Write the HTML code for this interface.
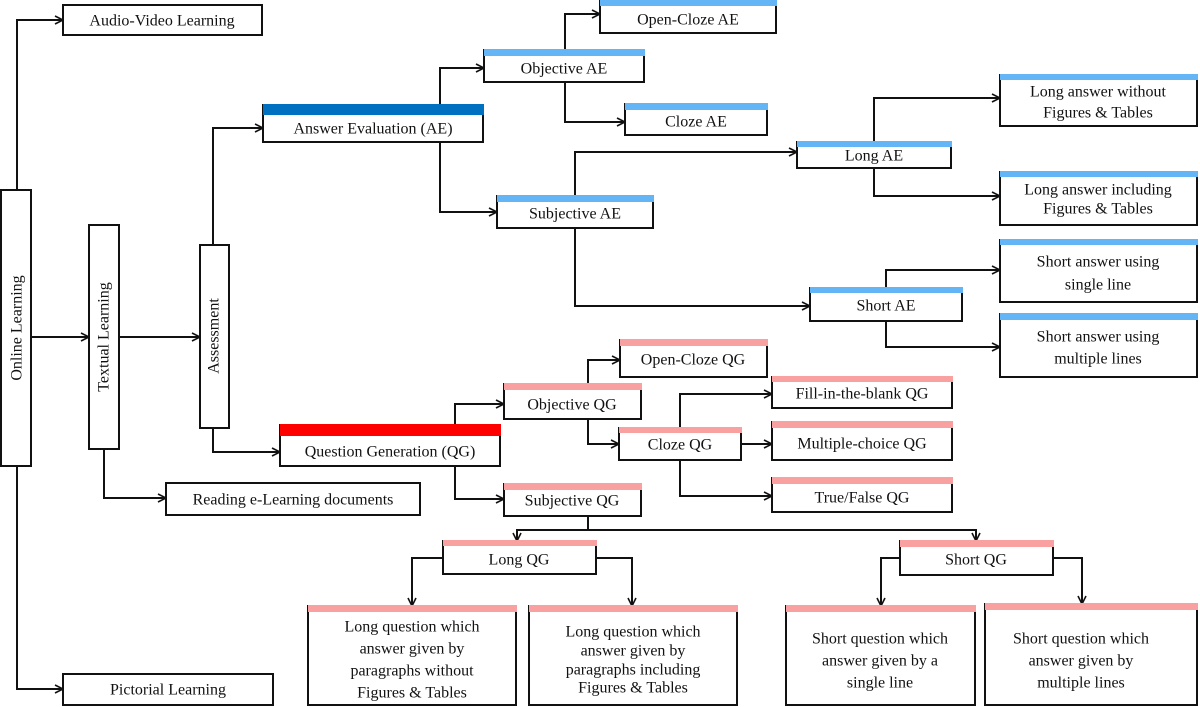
<!DOCTYPE html>
<html><head><meta charset="utf-8"><style>
html,body{margin:0;padding:0;background:#fff}
svg{display:block}
text{font-family:"Liberation Serif",serif;font-size:16px;fill:#111;text-anchor:middle;dominant-baseline:central}
</style></head><body>
<svg width="1200" height="708" viewBox="0 0 1200 708" xmlns="http://www.w3.org/2000/svg">
<defs><marker id="a" markerWidth="10" markerHeight="10" refX="9" refY="5" orient="auto" markerUnits="userSpaceOnUse"><path d="M1,1 L9,5 L1,9" fill="none" stroke="#111" stroke-width="1.6"/></marker></defs>
<g fill="none" stroke="#111" stroke-width="2" marker-end="url(#a)">
<path d="M17,190 V20 H63"/><path d="M17,466 V689 H63"/>
<path d="M31,337 H89"/><path d="M119,337 H200"/>
<path d="M213,245 V128 H263"/><path d="M213,428 V452 H280"/>
<path d="M104,449 V498 H166"/>
<path d="M440,105 V68 H484"/><path d="M440,142 V212 H497"/>
<path d="M565,50 V14 H600"/><path d="M565,82 V122 H625"/>
<path d="M575,196 V152 H797"/><path d="M575,228 V306 H810"/>
<path d="M874,142 V98 H1000"/><path d="M874,168 V196 H1000"/>
<path d="M886,288 V270 H1000"/><path d="M886,321 V347 H1000"/>
<path d="M455,425 V404 H504"/><path d="M455,466 V499 H504"/>
<path d="M588,384 V360 H620"/><path d="M588,419 V444 H619"/>
<path d="M680,428 V394 H772"/><path d="M680,460 V496 H772"/><path d="M741,444 H772"/>
<path d="M588,516 V530 H517 V541"/><path d="M588,530 H976 V541"/>
<path d="M443,558 H412 V606"/><path d="M596,558 H632 V606"/>
<path d="M900,558 H881 V606"/><path d="M1053,558 H1082 V604"/>
</g>
<g stroke="#111" stroke-width="2" fill="#fff">
<rect x="63" y="5" width="199" height="30"/>
<rect x="1" y="190" width="30" height="276"/>
<rect x="89" y="225" width="30" height="224"/>
<rect x="200" y="245" width="29" height="183"/>
<rect x="63" y="674" width="210" height="31"/>
<rect x="166" y="483" width="254" height="32"/>
<rect x="263" y="105" width="220" height="37"/>
<rect x="280" y="425" width="220" height="41"/>
<rect x="484" y="50" width="160" height="32"/>
<rect x="600" y="1" width="176" height="32"/>
<rect x="625" y="104" width="142" height="31"/>
<rect x="497" y="196" width="156" height="32"/>
<rect x="797" y="142" width="154" height="26"/>
<rect x="810" y="288" width="152" height="33"/>
<rect x="1000" y="75" width="197" height="51"/>
<rect x="1000" y="172" width="197" height="53"/>
<rect x="1000" y="240" width="197" height="62"/>
<rect x="1000" y="314" width="197" height="63"/>
<rect x="620" y="340" width="147" height="37"/>
<rect x="504" y="384" width="137" height="35"/>
<rect x="619" y="428" width="122" height="32"/>
<rect x="504" y="484" width="137" height="32"/>
<rect x="772" y="377" width="180" height="31"/>
<rect x="772" y="422" width="180" height="38"/>
<rect x="772" y="478" width="180" height="34"/>
<rect x="443" y="541" width="153" height="33"/>
<rect x="900" y="541" width="153" height="34"/>
<rect x="308" y="606" width="208" height="99"/>
<rect x="529" y="606" width="208" height="99"/>
<rect x="786" y="606" width="189" height="99"/>
<rect x="985" y="604" width="212" height="101"/>
</g>
<g stroke="none">
<rect x="263" y="104" width="221" height="11" fill="#0070c0"/>
<rect x="280" y="424" width="221" height="12" fill="#ff0000"/>
<g fill="#63b5f6">
<rect x="484" y="49" width="161" height="7"/><rect x="600" y="0" width="177" height="6"/>
<rect x="625" y="103" width="143" height="7"/><rect x="497" y="195" width="157" height="7"/>
<rect x="797" y="141" width="155" height="6"/><rect x="810" y="287" width="153" height="6"/>
<rect x="1000" y="74" width="198" height="6"/><rect x="1000" y="171" width="198" height="6"/>
<rect x="1000" y="239" width="198" height="6"/><rect x="1000" y="313" width="198" height="7"/>
</g>
<g fill="#f9a0a0">
<rect x="620" y="339" width="148" height="7"/><rect x="504" y="383" width="138" height="7"/>
<rect x="619" y="427" width="123" height="6"/><rect x="504" y="483" width="138" height="7"/>
<rect x="772" y="376" width="181" height="6"/><rect x="772" y="421" width="181" height="7"/>
<rect x="772" y="477" width="181" height="7"/><rect x="443" y="540" width="154" height="6"/>
<rect x="900" y="540" width="154" height="7"/><rect x="308" y="605" width="209" height="7"/>
<rect x="529" y="605" width="209" height="7"/><rect x="786" y="605" width="190" height="7"/>
<rect x="985" y="603" width="213" height="7"/>
</g>
</g>
<text x="162" y="21" font-size="17">Audio-Video Learning</text>
<text x="17" y="328" transform="rotate(-90 17 328)" font-size="17">Online Learning</text>
<text x="104" y="337" transform="rotate(-90 104 337)">Textual Learning</text>
<text x="214" y="336" transform="rotate(-90 214 336)">Assessment</text>
<text x="168" y="690" font-size="17">Pictorial Learning</text>
<text x="293" y="500" font-size="17">Reading e-Learning documents</text>
<text x="373" y="129" font-size="17">Answer Evaluation (AE)</text>
<text x="390" y="452" font-size="17">Question Generation (QG)</text>
<text x="564" y="69">Objective AE</text>
<text x="688" y="20" font-size="17">Open-Cloze AE</text>
<text x="696" y="122">Cloze AE</text>
<text x="575" y="214">Subjective AE</text>
<text x="874" y="156">Long AE</text>
<text x="886" y="306">Short AE</text>
<text x="1098" y="92">Long answer without</text><text x="1098" y="113">Figures &amp; Tables</text>
<text x="1098" y="190">Long answer including</text><text x="1098" y="209">Figures &amp; Tables</text>
<text x="1098" y="262">Short answer using</text><text x="1098" y="285">single line</text>
<text x="1098" y="337">Short answer using</text><text x="1098" y="359">multiple lines</text>
<text x="693" y="360">Open-Cloze QG</text>
<text x="572" y="405">Objective QG</text>
<text x="680" y="445">Cloze QG</text>
<text x="572" y="501">Subjective QG</text>
<text x="862" y="394">Fill-in-the-blank QG</text>
<text x="862" y="444">Multiple-choice QG</text>
<text x="862" y="498">True/False QG</text>
<text x="519" y="560">Long QG</text>
<text x="976" y="560">Short QG</text>
<text x="412" y="627">Long question which</text><text x="412" y="649">answer given by</text><text x="412" y="671">paragraphs without</text><text x="412" y="693">Figures &amp; Tables</text>
<text x="633" y="632">Long question which</text><text x="633" y="651">answer given by</text><text x="633" y="670">paragraphs including</text><text x="633" y="688">Figures &amp; Tables</text>
<text x="880" y="639">Short question which</text><text x="880" y="661">answer given by a</text><text x="880" y="683">single line</text>
<text x="1081" y="639">Short question which</text><text x="1081" y="661">answer given by</text><text x="1081" y="683">multiple lines</text>
</svg>
</body></html>
